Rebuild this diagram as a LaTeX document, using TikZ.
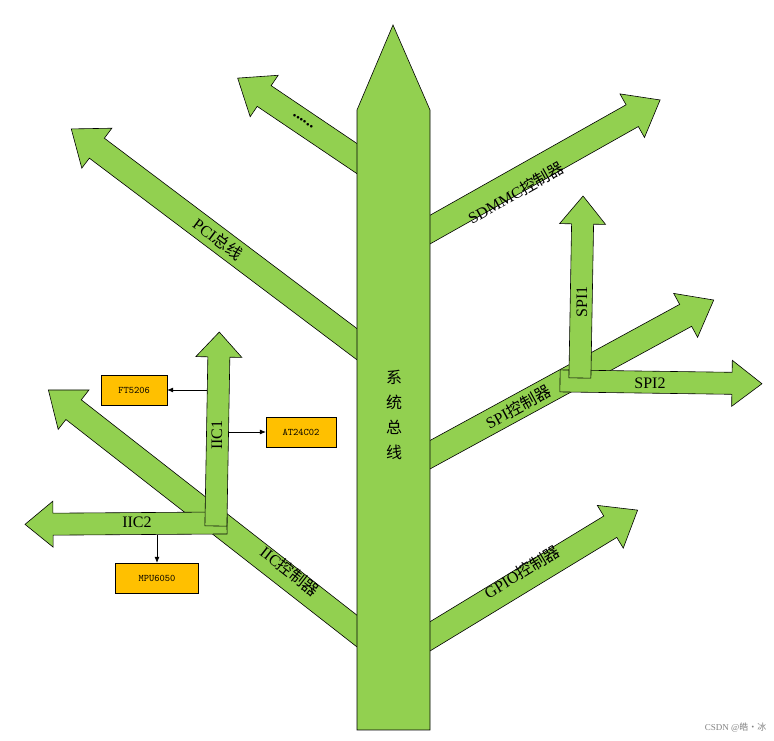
\documentclass[tikz,border=0pt]{standalone}
\usepackage{fontspec}
\setmainfont{Liberation Serif}
\newfontfamily\cjk{Noto Sans CJK SC}
\usetikzlibrary{arrows.meta}
\definecolor{grn}{HTML}{92D050}
\definecolor{org}{HTML}{FFC000}
\tikzset{br/.style={draw=black,fill=grn,line width=0.6pt},
 lbl/.style={font=\fontsize{16}{16}\selectfont,inner sep=0pt},
 dev/.style={draw=black,fill=org,font=\fontsize{10}{10}\selectfont\ttfamily,minimum height=30pt,inner sep=2pt},
 con/.style={-{Latex[length=6pt,width=5pt]},line width=0.6pt}}
% name, x, y, angle, length, shaft, headw, headl
\newcommand\brarrow[8]{%
\begin{scope}[shift={(#2,#3)},rotate=#4]
\draw[br] (-6,-#6/2) -- ({#5-#8},-#6/2) -- ({#5-#8},-#7/2) -- (#5,0) -- ({#5-#8},#7/2) -- ({#5-#8},#6/2) -- (-6,#6/2) -- cycle;
\coordinate (#1) at (#5,0);
\end{scope}}
\begin{document}
\begin{tikzpicture}[x=1pt,y=1pt]
\useasboundingbox (0,0) rectangle (774,741);
\brarrow{dots}{362}{579}{146}{150}{25}{50}{32}
\brarrow{pci}{362}{393}{143}{364}{25}{50}{32}
\brarrow{sdmmc}{424}{508}{29.4}{271}{25}{50}{32}
\brarrow{spic}{424}{283}{28.6}{330}{25}{50}{32}
\brarrow{spitwo}{566}{360}{-0.8}{196}{22}{46}{30}
\brarrow{spione}{580}{369}{89}{176}{22}{46}{28}
\brarrow{gpio}{424}{101}{31.3}{250}{25}{50}{32}
\brarrow{iic}{362}{106}{142}{398}{25}{50}{32}
\brarrow{iictwo}{221}{218}{180.4}{196}{22}{46}{28}
\brarrow{iicone}{216}{221}{89}{188}{22}{46}{25}
% trunk
\draw[br] (357,11) -- (357,631) -- (393,716) -- (430,631) -- (430,11) -- cycle;
\node[lbl,align=center,font=\cjk\fontsize{16}{25}\selectfont] (trunk) at (394,326) {系\\统\\总\\线};
% labels
\node[lbl,rotate=-34,font=\bfseries\fontsize{16}{16}\selectfont] (ldots) at (303,620) {......};
\node[lbl,rotate=-37] (lpci) at (218,502) {PCI{\cjk 总线}};
\node[lbl,rotate=29.4] (lsd) at (516,548) {SDMMC{\cjk 控制器}};
\node[lbl,rotate=28.6] (lspi) at (518,334) {SPI{\cjk 控制器}};
\node[lbl] (lspi2) at (650,358) {SPI2};
\node[lbl,rotate=90] (lspi1) at (582,439) {SPI1};
\node[lbl,rotate=31.3] (lgpio) at (522,169) {GPIO{\cjk 控制器}};
\node[lbl,rotate=-38] (liic) at (290,170) {IIC{\cjk 控制器}};
\node[lbl] (liic2) at (137,219) {IIC2};
\node[lbl,rotate=90] (liic1) at (217,306) {IIC1};
% devices
\node[dev,minimum width=66pt] (ft) at (134,351) {FT5206};
\node[dev,minimum width=70pt] (at) at (301,309) {AT24C02};
\node[dev,minimum width=83pt] (mpu) at (157,163) {MPU6050};
\coordinate (c1) at (207,351);
\coordinate (c2) at (229,309);
\coordinate (c3) at (157,206);
\draw[con] (c1) -- (ft);
\draw[con] (c2) -- (at);
\draw[con] (c3) -- (mpu);
\node[font=\fontsize{9}{9}\selectfont,text=gray,anchor=east] (wm) at (770,13) {CSDN @{\cjk 皓·冰}};
\end{tikzpicture}
\end{document}
